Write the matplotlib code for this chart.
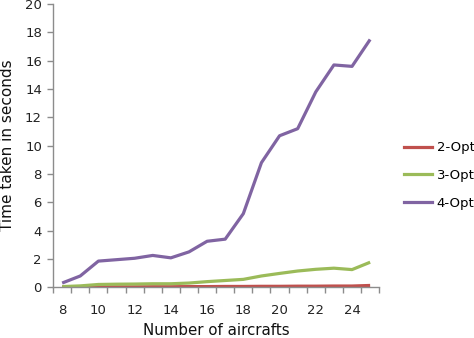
import matplotlib
matplotlib.use("Agg")
import matplotlib.pyplot as plt
from matplotlib.lines import Line2D

aircrafts = [8, 9, 10, 11, 12, 13, 14, 15, 16, 17, 18, 19, 20, 21, 22, 23, 24, 25]
opt2 = [0.02, 0.02, 0.03, 0.03, 0.03, 0.04, 0.04, 0.05, 0.05, 0.06, 0.06, 0.07, 0.07, 0.08, 0.08, 0.09, 0.09, 0.13]
opt3 = [0.05, 0.1, 0.2, 0.22, 0.23, 0.25, 0.25, 0.3, 0.4, 0.48, 0.56, 0.8, 0.98, 1.15, 1.27, 1.35, 1.25, 1.77]
opt4 = [0.3, 0.8, 1.85, 1.95, 2.05, 2.25, 2.08, 2.5, 3.25, 3.4, 5.2, 8.8, 10.7, 11.2, 13.8, 15.7, 15.6, 17.5]
series_names = ["2-Opt", "3-Opt", "4-Opt"]
series_colors = ["#C0504D", "#9BBB59", "#8064A2"]
xtick_labels = [8, 10, 12, 14, 16, 18, 20, 22, 24]
ytick_values = list(range(0, 21, 2))

fig = plt.figure(figsize=(4.74, 3.38), dpi=100)
ax = fig.add_axes([0.112, 0.150, 0.688, 0.838])

for vals, name, col in zip([opt2, opt3, opt4], series_names, series_colors):
    ax.plot(aircrafts, vals, color=col, lw=2.3, label=name, solid_capstyle="butt")

ax.set_xlim(aircrafts[0] - 0.5, aircrafts[-1] + 0.5)
ax.set_ylim(0, 20)
ax.set_yticks(ytick_values)
ax.set_xticks(xtick_labels)
ax.set_xticks([a - 0.5 for a in aircrafts] + [aircrafts[-1] + 0.5], minor=True)

for s in ["top", "right"]:
    ax.spines[s].set_visible(False)
for s in ["left", "bottom"]:
    ax.spines[s].set_color("#8c8c8c")
    ax.spines[s].set_linewidth(1.0)

ax.tick_params(axis="x", which="major", length=0, pad=12, labelsize=9.5, colors="#222222")
ax.tick_params(axis="x", which="minor", length=4, width=1, color="#8c8c8c", direction="out")
ax.tick_params(axis="y", which="major", length=4, width=1, color="#8c8c8c", direction="out",
               pad=4, labelsize=9.5, labelcolor="#222222")

ax.set_xlabel("Number of aircrafts", fontsize=10.8, color="#111111")
ax.xaxis.set_label_coords(0.5, -0.125)
ax.set_ylabel("Time taken in seconds", fontsize=11, color="#111111")
ax.yaxis.set_label_coords(-0.118, 0.5)

handles = [Line2D([], [], color=c, lw=2.3) for c in series_colors]
fig.legend(handles, series_names, loc="upper left", bbox_to_anchor=(0.842, 0.598),
           frameon=False, fontsize=9.5, handlelength=2.1, handletextpad=0.35,
           labelspacing=1.12, borderaxespad=0)

fig.savefig("out.png", dpi=100)
